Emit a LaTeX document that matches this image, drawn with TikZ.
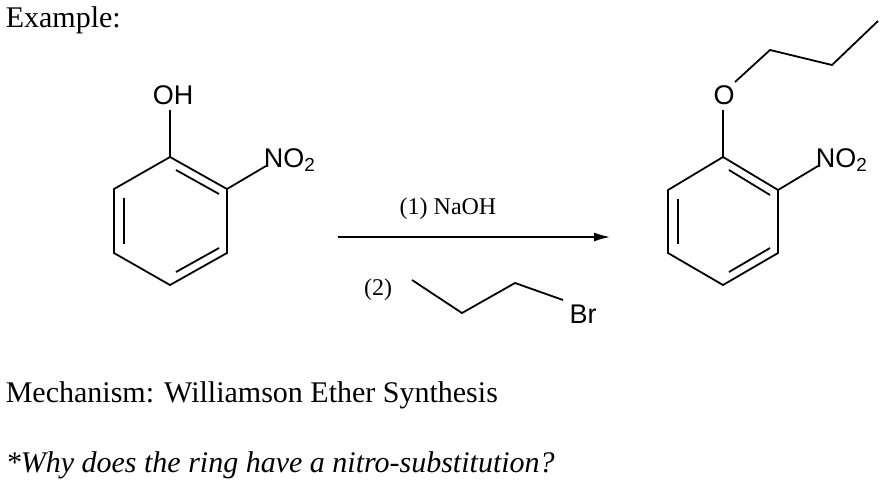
\documentclass[tikz,border=0pt]{standalone}
\usepackage{fontspec}
\usetikzlibrary{arrows.meta}
\setmainfont{Liberation Serif}
\newfontfamily\atomfont{Liberation Sans}
\begin{document}
\begin{tikzpicture}[x=1pt,y=-1pt,line width=1.6pt,
  bond/.style={line width=1.8pt},
  atom/.style={font=\atomfont\fontsize{27}{27}\selectfont,inner sep=1pt},
  txt/.style={font=\fontsize{30}{30}\selectfont,anchor=west,inner sep=0pt}]
\useasboundingbox (0,0) rectangle (885,485);
\node[txt] (ex) at (5,20) {Example:};
% left molecule
\coordinate (a1) at (170,157); \coordinate (a2) at (227,189); \coordinate (a3) at (227,253);
\coordinate (a4) at (170,285); \coordinate (a5) at (114,253); \coordinate (a6) at (114,189);
\draw[bond] (a1)--(a2)--(a3)--(a4)--(a5)--(a6)--cycle;
\draw[bond] (176,170)--(219,194); \draw[bond] (124,198)--(124,244); \draw[bond] (176,272)--(219,248);
\node[atom] (oh) at (173,95) {OH};
\draw[bond] (a1)--(170,110);
\node[atom,anchor=west] (no2a) at (262,160) {NO\textsubscript{2}};
\draw[bond] (a2)--(266,166);
% arrow
\coordinate (s) at (338,237); \coordinate (e) at (610,237);
\draw[line width=1.6pt,-{Latex[length=16pt,width=9pt]}] (s)--(e);
\node[font=\fontsize{24}{24}\selectfont] (naoh) at (448,209) {(1) NaOH};
\node[font=\fontsize{24}{24}\selectfont] (two) at (378,290) {(2)};
\coordinate (b1) at (412,280); \coordinate (b2) at (462,313); \coordinate (b3) at (515,283);
\draw[bond] (b1)--(b2)--(b3)--(563,300);
\node[atom] (br) at (583,314) {Br};
% right molecule
\coordinate (c1) at (723,157); \coordinate (c2) at (778,190); \coordinate (c3) at (778,253);
\coordinate (c4) at (723,285); \coordinate (c5) at (668,253); \coordinate (c6) at (668,190);
\draw[bond] (c1)--(c2)--(c3)--(c4)--(c5)--(c6)--cycle;
\draw[bond] (729,170)--(770,195); \draw[bond] (678,199)--(678,244); \draw[bond] (729,272)--(770,248);
\node[atom] (o) at (724,95) {O};
\draw[bond] (c1)--(723,110);
\draw[bond] (735,82)--(770,50)--(832,65)--(878,21);
\node[atom,anchor=west] (no2b) at (814,160) {NO\textsubscript{2}};
\draw[bond] (c2)--(818,166);
\node[txt] (mech) at (5,395) {Mechanism: Williamson Ether Synthesis};
\node[txt] (why) at (5,465) {\itshape *Why does the ring have a nitro-substitution?};
\end{tikzpicture}
\end{document}
